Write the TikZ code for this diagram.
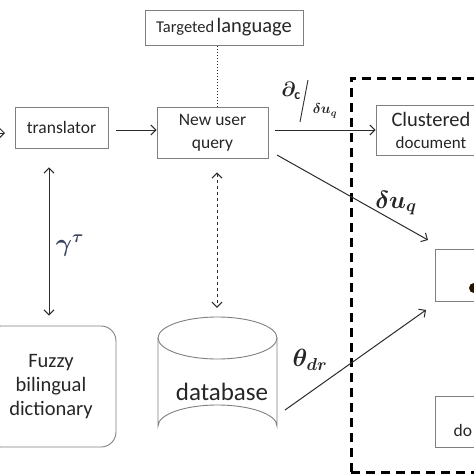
\documentclass[tikz,border=0pt]{standalone}
\usepackage{fontspec}
\usepackage{amsmath,bm}
\setmainfont{Carlito}
\usetikzlibrary{arrows.meta,calc}
\definecolor{boxgray}{HTML}{7F7F7F}
\definecolor{linegray}{HTML}{2B2B2B}
\definecolor{txt}{HTML}{262626}
\definecolor{gammablue}{HTML}{3A4560}
\newcommand{\fsA}{\fontsize{17.5}{23}\selectfont}
\newcommand{\fsB}{\fontsize{20.5}{24}\selectfont}
\tikzset{
  box/.style={draw=boxgray, line width=0.9pt, rectangle, inner sep=0pt, text=txt, align=center},
  conn/.style={draw=linegray, line width=1pt, -{Straight Barb[length=5pt,width=10pt]}},
  conn2/.style={draw=linegray, line width=1pt, {Straight Barb[length=5pt,width=10pt]}-{Straight Barb[length=5pt,width=10pt]}},
  bigdash/.style={draw=black, line width=3pt, dash pattern=on 9pt off 6pt},
  mathlbl/.style={text=txt, inner sep=0pt}
}
\begin{document}
\begin{tikzpicture}[x=1pt,y=-1pt]
\useasboundingbox (0,0) rectangle (474,474);
\clip (0,0) rectangle (474,474);

% nodes
\node[box, minimum width=93pt, minimum height=41pt, font=\fsA] (tr) at (61.5,127.5) {translator};
\node[box, minimum width=111pt, minimum height=51pt, font=\fsA] (nuq) at (212.5,132.5) {New user\\query};
\node[box, minimum width=158pt, minimum height=35pt] (tl) at (224,27.5) {{\fontsize{16.5}{20}\selectfont Targeted} {\fsB language}};
\node[box, minimum width=110pt, minimum height=50pt, font=\fontsize{20.5}{22}\selectfont] (clus) at (431,130) {Clustered\\{\fontsize{17}{20}\selectfont document}};
\node[box, minimum width=90pt, minimum height=52pt] (mid) at (480,275) {};
\fill[black!85!orange] (474,288) ellipse (5pt and 5pt);
\node[box, minimum width=90pt, minimum height=51pt] (bot) at (480,421.5) {};
\node[anchor=west, inner sep=0pt, font=\fsA, text=txt] (do) at (453.5,430) {do};
\node[box, rounded corners=15pt, minimum width=130pt, minimum height=121pt, font=\fontsize{20.5}{24}\selectfont, text=txt] (dict) at (51,386.5) {Fuzzy\\bilingual\\dictionary};

% database cylinder
\node[inner sep=0pt, minimum width=119pt, minimum height=130pt] (db) at (217.5,382) {};
\draw[boxgray, line width=0.9pt] (217.5,338) ellipse (59.5pt and 21pt);
\draw[boxgray, line width=0.9pt] (158,338) -- (158,426) arc[start angle=180, end angle=360, x radius=59.5pt, y radius=-21pt] -- (277,338);
\node[font=\fontsize{25}{30}\selectfont, text=txt] (dbt) at (222,392) {database};

% dashed region
\draw[bigdash] (351,472) -- (351,78) -- (540,78);
\draw[bigdash] (351,472) -- (540,472);

% connectors
\coordinate (lin) at (-12,133);
\coordinate (lend) at (5,133);
\draw[conn] (lin) -- (lend);
\draw[conn, shorten <=8pt] (tr.east |- 0,130) -- (nuq.west |- 0,130);
\draw[draw=linegray, line width=1pt, dotted] ([xshift=4.5pt]nuq.north) -- ([xshift=4.5pt]nuq.north |- tl.south);
\draw[conn2, dashed, shorten <=14pt, shorten >=9pt] ([xshift=4.5pt]nuq.south) -- ([xshift=4.5pt]nuq.south |- db.north);
\draw[conn2, shorten <=19pt, shorten >=10pt] (tr.south -| 49,0) -- (dict.north -| 49,0);
\draw[conn, shorten <=7pt] (nuq.east |- 0,130) -- (clus.west |- 0,130);
\coordinate (s1) at (277,155);
\coordinate (e1) at (428,240);
\draw[conn] (s1) -- (e1);
\coordinate (s2) at (285,410);
\coordinate (e2) at (426,310);
\draw[conn] (s2) -- (e2);

% labels
\node[mathlbl, text=gammablue, font=\fontsize{24}{28}\selectfont] (g) at (70,246) {$\bm{\gamma^{\tau}}$};
\node[mathlbl, font=\fontsize{20}{24}\selectfont] (dc) at (291,91) {$\bm{\partial_{\mathrm{c}}}$};
\draw[linegray, line width=0.9pt] (300,122) -- (308,80);
\node[mathlbl, font=\fontsize{14}{17}\selectfont] (du) at (325,111) {$\bm{\delta u_q}$};
\node[mathlbl, font=\fontsize{27}{32}\selectfont] (du2) at (396,203) {$\bm{\delta u_q}$};
\node[mathlbl, font=\fontsize{23}{27}\selectfont] (th) at (310,360) {$\bm{\theta_{dr}}$};
\end{tikzpicture}
\end{document}
